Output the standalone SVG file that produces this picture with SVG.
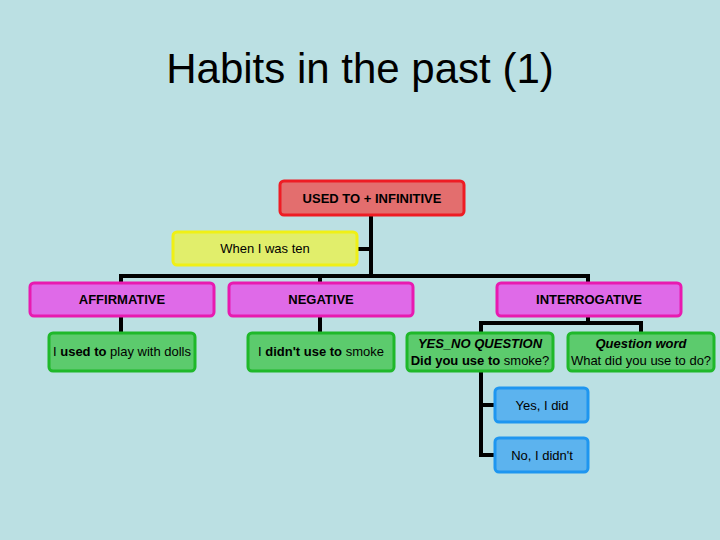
<svg xmlns="http://www.w3.org/2000/svg" width="720" height="540" viewBox="0 0 720 540">
<style>
text{font-family:"Liberation Sans",Arial,sans-serif;font-size:13px;fill:#000;text-anchor:middle}
.b{font-weight:bold}
.r{fill:#e36e6e;stroke:#ee1c24;stroke-width:3}
.y{fill:#e1ee6b;stroke:#f0f015;stroke-width:3}
.m{fill:#df6ae8;stroke:#e81ab0;stroke-width:3}
.g{fill:#5ccb6d;stroke:#1fb82a;stroke-width:3}
.c{fill:#5cb3ee;stroke:#1e96f0;stroke-width:3}
.l{stroke:#000;stroke-width:4;fill:none}
</style>
<rect width="720" height="540" fill="#bbe0e3"/>
<text x="360" y="83" style="font-size:42px">Habits in the past (1)</text>
<g id="connectors">
<path class="l" d="M371 215V276M357 249H371M121 283V276H588V283M320 276V283M121 316V333M320 316V333M588 316V323M481 333V323H641V333M481 371V455H495M481 405H495"/>
</g>
<g id="root"><rect class="r" x="280" y="181" width="184" height="34" rx="4"/><text class="b" x="372" y="203">USED TO + INFINITIVE</text></g>
<g id="when"><rect class="y" x="173" y="232" width="184" height="33" rx="4"/><text x="265" y="253">When I was ten</text></g>
<g id="aff"><rect class="m" x="30" y="283" width="184" height="33" rx="4"/><text class="b" x="122" y="304">AFFIRMATIVE</text></g>
<g id="neg"><rect class="m" x="229" y="283" width="184" height="33" rx="4"/><text class="b" x="321" y="304">NEGATIVE</text></g>
<g id="int"><rect class="m" x="497" y="283" width="184" height="33" rx="4"/><text class="b" x="589" y="304">INTERROGATIVE</text></g>
<g id="affex"><rect class="g" x="49" y="333" width="146" height="38" rx="4"/><text x="122" y="356">I <tspan class="b">used to</tspan> play with dolls</text></g>
<g id="negex"><rect class="g" x="248" y="333" width="146" height="38" rx="4"/><text x="321" y="356">I <tspan class="b">didn't use to</tspan> smoke</text></g>
<g id="yesno"><rect class="g" x="407" y="333" width="146" height="38" rx="4"/><text class="b" x="480" y="348" font-style="italic">YES_NO QUESTION</text><text x="480" y="365"><tspan class="b">Did you use to</tspan> smoke?</text></g>
<g id="qword"><rect class="g" x="568" y="333" width="146" height="38" rx="4"/><text class="b" x="641" y="348" font-style="italic">Question word</text><text x="641" y="365">What did you use to do?</text></g>
<g id="yes"><rect class="c" x="495" y="388" width="93" height="34" rx="4"/><text x="542" y="410">Yes, I did</text></g>
<g id="no"><rect class="c" x="495" y="438" width="93" height="34" rx="4"/><text x="542" y="460">No, I didn't</text></g>
</svg>
